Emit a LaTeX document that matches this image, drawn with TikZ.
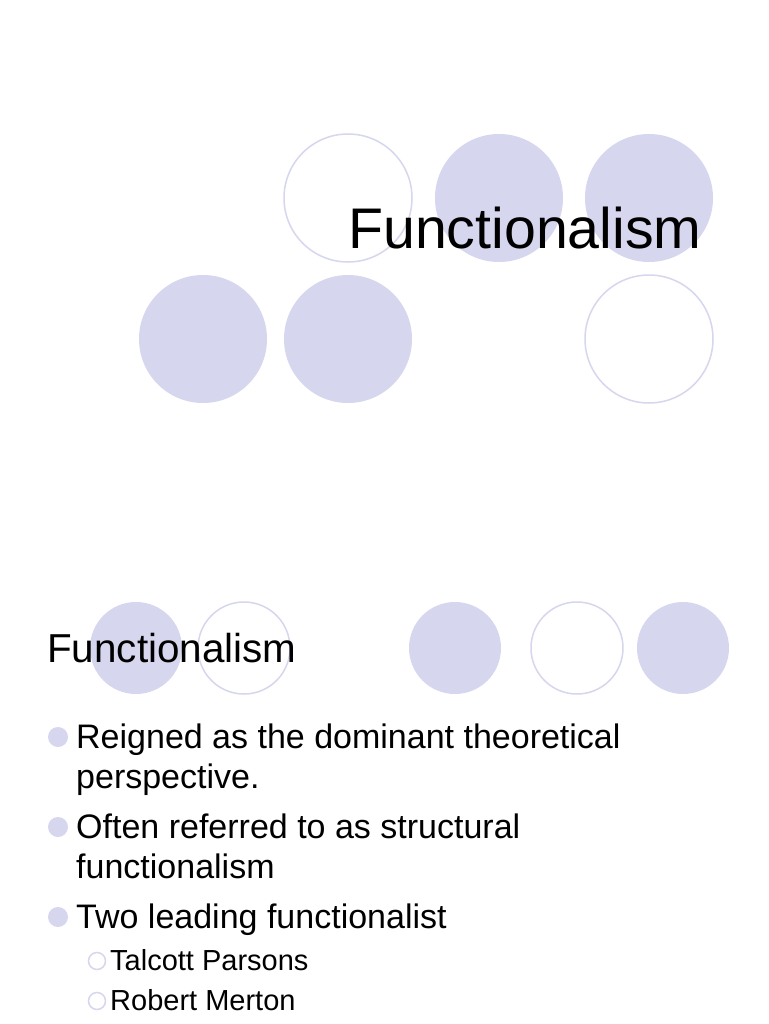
\documentclass[tikz,border=0pt]{standalone}
\usepackage{fontspec}
\setmainfont{Liberation Sans}
\definecolor{lav}{RGB}{214,214,238}
\definecolor{lavline}{RGB}{214,214,238}
\begin{document}
\begin{tikzpicture}[x=1pt,y=-1pt,
  fillc/.style={fill=lav,draw=none},
  openc/.style={draw=lavline,line width=1.5pt,fill=white},
  txt/.style={anchor=base west,inner sep=0pt,text=black},
  bul/.style={fill=lav,draw=none},
  subbul/.style={draw=lav,line width=1.5pt,fill=white}]
\useasboundingbox[fill=white] (0,0) rectangle (768,1024);
\draw[openc] (348,198) circle (64);
\fill[fillc] (499,198) circle (64);
\fill[fillc] (649,198) circle (64);
\fill[fillc] (203,339) circle (64);
\fill[fillc] (348,339) circle (64);
\draw[openc] (649,339) circle (64);
\node[txt,font=\fontsize{57.3}{60}\selectfont] (title) at (348,248) {Functionalism};
\fill[fillc] (136,648) circle (46);
\draw[openc] (244,648) circle (46);
\fill[fillc] (455,648) circle (46);
\draw[openc] (577,648) circle (46);
\fill[fillc] (683,648) circle (46);
\node[txt,font=\fontsize{40.4}{44}\selectfont] (head) at (47,662) {Functionalism};
\begin{scope}[font=\fontsize{34}{38}\selectfont]
\fill[bul] (58,737) circle (10);
\node[txt] (b1a) at (76,748) {Reigned as the dominant theoretical};
\node[txt] (b1b) at (76,788) {perspective.};
\fill[bul] (58,827) circle (10);
\node[txt] (b2a) at (76,838) {Often referred to as structural};
\node[txt] (b2b) at (76,878) {functionalism};
\fill[bul] (58,917) circle (10);
\node[txt] (b3) at (76,928) {Two leading functionalist};
\end{scope}
\begin{scope}[font=\fontsize{29}{32}\selectfont]
\draw[subbul] (97,961) circle (8.5);
\node[txt] (s1) at (110,970) {Talcott Parsons};
\draw[subbul] (97,1001) circle (8.5);
\node[txt] (s2) at (110,1010) {Robert Merton};
\end{scope}
\end{tikzpicture}
\end{document}
